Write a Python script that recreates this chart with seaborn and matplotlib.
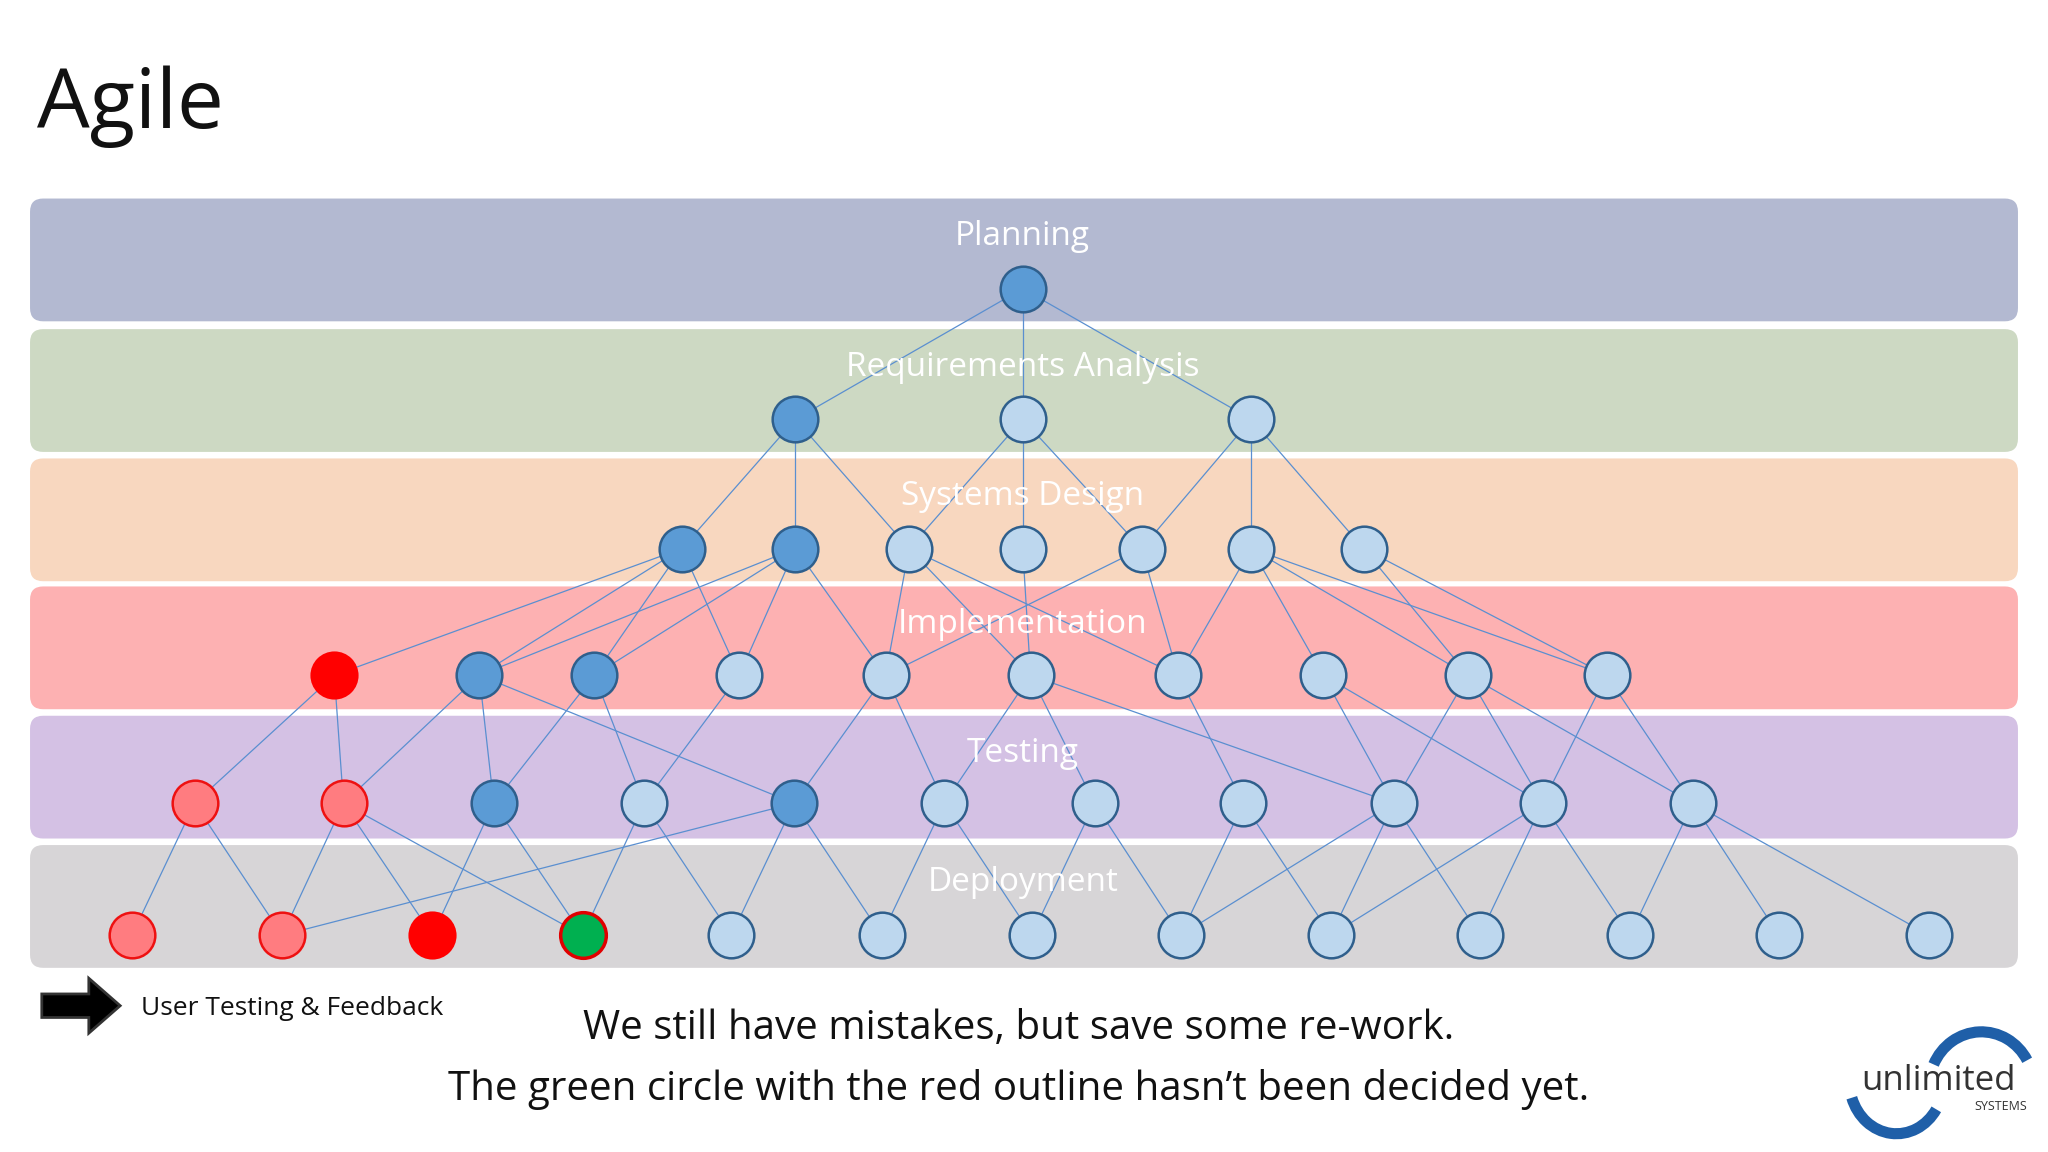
import matplotlib
matplotlib.use("Agg")
import matplotlib.pyplot as plt
import pandas as pd
import seaborn as sns
from matplotlib.patches import FancyBboxPatch, Arc, FancyArrow

sns.set_theme(style="white")
plt.rcParams["font.family"] = ["Open Sans", "DejaVu Sans"]

# phases (top to bottom)
phases = ["Planning", "Requirements Analysis", "Systems Design",
          "Implementation", "Testing", "Deployment"]
phase_colors = ["#b3b9d1", "#cdd9c3", "#f8d7bf", "#fdb1b2", "#d4c1e4", "#d7d5d7"]

# node x positions per level (slide units, 1568 wide)
level_x = [
    [783],
    [609, 783, 958],
    [522, 609, 696, 783, 874, 958, 1044],
    [256, 367, 455, 566, 678, 789, 902, 1013, 1124, 1230],
    [149, 263, 378, 493, 608, 723, 838, 952, 1067, 1181, 1296],
    [101, 216, 331, 446, 560, 675, 790, 904, 1019, 1133, 1248, 1362, 1477],
]
level_y = [221, 321, 420, 517, 615, 716]
# d = done, o = open, e = mistake, m = mistake reworked, u = undecided
level_state = [
    "d",
    "doo",
    "ddooooo",
    "eddooooooo",
    "mmdodoooooo",
    "mmeuooooooooo",
]
# edges between level k and k+1: (parent index, child index)
edges = [
    [(0, 0), (0, 1), (0, 2)],
    [(0, 0), (0, 1), (0, 2), (1, 2), (1, 3), (1, 4), (2, 4), (2, 5), (2, 6)],
    [(0, 0), (0, 1), (0, 2), (0, 3), (1, 1), (1, 2), (1, 3), (1, 4),
     (2, 4), (2, 5), (2, 6), (3, 5), (4, 4), (4, 6),
     (5, 6), (5, 7), (5, 8), (5, 9), (6, 8), (6, 9)],
    [(0, 0), (0, 1), (1, 1), (1, 2), (1, 4), (2, 2), (2, 3), (3, 3),
     (4, 4), (4, 5), (5, 5), (5, 6), (5, 8), (6, 7), (7, 8), (7, 9),
     (8, 8), (8, 9), (8, 10), (9, 9), (9, 10)],
    [(0, 0), (0, 1), (1, 1), (1, 2), (1, 3), (2, 2), (2, 3), (3, 3), (3, 4),
     (4, 1), (4, 4), (4, 5), (5, 5), (5, 6), (6, 6), (6, 7), (7, 7), (7, 8),
     (8, 7), (8, 8), (8, 9), (9, 8), (9, 9), (9, 10), (10, 10), (10, 11), (10, 12)],
]
state_face = {"d": "#5b9bd5", "o": "#bdd7ee", "e": "#ff0000", "m": "#ff7c80", "u": "#00b050"}
state_edge = {"d": "#2f5f8c", "o": "#2f5f8c", "e": "#ff0000", "m": "#ee1111", "u": "#e00000"}

fig = plt.figure(figsize=(20.48, 11.52), dpi=100)
ax = fig.add_axes([0, 0, 1, 1])

band_top = [152, 252, 351, 449, 548, 647]
band_h = 94
for name, col, top, ly in zip(phases, phase_colors, band_top, level_y):
    ax.add_patch(FancyBboxPatch((23 + 10, top + 10), 1522 - 20, band_h - 20,
                                boxstyle="round,pad=10", fc=col, ec="none", zorder=0))
    ax.text(783, top + 29, name, color="white", fontsize=24, ha="center",
            va="center", zorder=3)

seg_color = "#5a8fd0"
for k, lev in enumerate(edges):
    for a, b in lev:
        ax.plot([level_x[k][a], level_x[k + 1][b]], [level_y[k], level_y[k + 1]],
                color=seg_color, lw=0.9, zorder=2)

rows = []
for xs, y, st in zip(level_x, level_y, level_state):
    for x, s in zip(xs, st):
        rows.append({"x": x, "y": y, "state": s})
nodes = pd.DataFrame(rows)
for s, grp in nodes.groupby("state"):
    sns.scatterplot(data=grp, x="x", y="y", s=1080, color=state_face[s],
                    edgecolor=state_edge[s], linewidth=2.5 if s == "u" else 1.8,
                    ax=ax, zorder=4, legend=False)
ax.set_xlim(0, 1568)
ax.set_ylim(882, 0)
ax.axis("off")

ax.text(28, 82, "Agile", fontsize=60, ha="left", va="center", color="#111111")

ax.add_patch(FancyArrow(32, 770, 36, 0, width=18, head_width=42, head_length=24,
                        length_includes_head=False, fc="black", ec="#333333", lw=2))
ax.text(108, 772, "User Testing & Feedback", fontsize=19, ha="left", va="center",
        color="#111111")
ax.text(780, 788, "We still have mistakes, but save some re-work.", fontsize=29,
        ha="center", va="center", color="#111111")
ax.text(780, 834, "The green circle with the red outline hasn\u2019t been decided yet.",
        fontsize=29, ha="center", va="center", color="#111111")

# logo (y axis is inverted, so angles are mirrored)
ax.add_patch(Arc((1452, 828), 72, 80, theta1=35, theta2=160, lw=8, color="#1f5fa8"))
ax.add_patch(Arc((1517, 832), 80, 84, theta1=205, theta2=330, lw=8, color="#1f5fa8"))
ax.text(1484, 828, "unlimited", fontsize=25, ha="center", va="center", color="#333333",
        zorder=5)
ax.text(1552, 847, "SYSTEMS", fontsize=9, ha="right", va="center", color="#333333")

fig.savefig("out.png", dpi=100)
